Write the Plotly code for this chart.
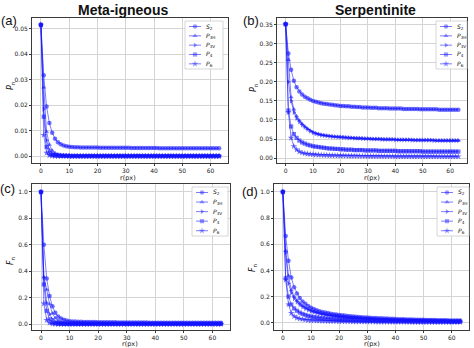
import plotly.graph_objects as go

# ---------------------------------------------------------------------------
# Data: correlation functions vs lag r (pixels), r = 0..63
# ---------------------------------------------------------------------------
r_px = list(range(64))

series_labels = ["<i>S</i><sub>2</sub>", "<i>P</i><sub>3H</sub>", "<i>P</i><sub>3V</sub>",
                 "<i>P</i><sub>4</sub>", "<i>P</i><sub>6</sub>"]

x_ticks = [0, 10, 20, 30, 40, 50, 60]
y_ticks_a = [0.00, 0.01, 0.02, 0.03, 0.04, 0.05]
y_ticks_b = [0.00, 0.05, 0.10, 0.15, 0.20, 0.25, 0.30, 0.35]
y_ticks_cd = [0.0, 0.2, 0.4, 0.6, 0.8, 1.0]

# (a) Meta-igneous, P_n
S2_a = [0.0516, 0.0318, 0.0195, 0.0130, 0.0092, 0.0068, 0.0055, 0.0047,
        0.0042, 0.0039, 0.0037, 0.0036, 0.0035, 0.0035, 0.0034, 0.0034,
        0.0034, 0.0034, 0.0034, 0.0034, 0.0034, 0.0033, 0.0033, 0.0033,
        0.0033, 0.0033, 0.0033, 0.0033, 0.0033, 0.0033, 0.0033, 0.0033,
        0.0032, 0.0032, 0.0032, 0.0032, 0.0032, 0.0032, 0.0032, 0.0032,
        0.0032, 0.0032, 0.0031, 0.0031, 0.0031, 0.0031, 0.0031, 0.0031,
        0.0031, 0.0031, 0.0031, 0.0031, 0.0031, 0.0031, 0.0031, 0.0031,
        0.0031, 0.0031, 0.0031, 0.0031, 0.0031, 0.0031, 0.0031, 0.0031]
P3H_a = [0.0516, 0.0270, 0.0096, 0.0045, 0.0022, 0.0012, 0.0007, 0.0005,
         0.0004, 0.0003, 0.0003, 0.0002, 0.0002, 0.0002, 0.0002, 0.0002,
         0.0002, 0.0002, 0.0002, 0.0002, 0.0002, 0.0002, 0.0002, 0.0002,
         0.0002, 0.0002, 0.0002, 0.0002, 0.0002, 0.0002, 0.0002, 0.0002,
         0.0002, 0.0002, 0.0002, 0.0002, 0.0002, 0.0002, 0.0002, 0.0002,
         0.0002, 0.0002, 0.0002, 0.0002, 0.0002, 0.0002, 0.0002, 0.0002,
         0.0002, 0.0002, 0.0002, 0.0002, 0.0002, 0.0002, 0.0002, 0.0002,
         0.0002, 0.0002, 0.0002, 0.0002, 0.0002, 0.0002, 0.0002, 0.0002]
P3V_a = [0.0516, 0.0185, 0.0062, 0.0025, 0.0011, 0.0006, 0.0004, 0.0003,
         0.0002, 0.0002, 0.0002, 0.0001, 0.0001, 0.0001, 0.0001, 0.0001,
         0.0001, 0.0001, 0.0001, 0.0001, 0.0001, 0.0001, 0.0001, 0.0001,
         0.0001, 0.0001, 0.0001, 0.0001, 0.0001, 0.0001, 0.0001, 0.0001,
         0.0001, 0.0001, 0.0001, 0.0001, 0.0001, 0.0001, 0.0001, 0.0001,
         0.0001, 0.0001, 0.0001, 0.0001, 0.0001, 0.0001, 0.0001, 0.0001,
         0.0001, 0.0001, 0.0001, 0.0001, 0.0001, 0.0001, 0.0001, 0.0001,
         0.0001, 0.0001, 0.0001, 0.0001, 0.0001, 0.0001, 0.0001, 0.0001]
P4_a = [0.0516, 0.0155, 0.0036, 0.0012, 0.0005, 0.0003, 0.0002, 0.0001,
        0.0001, 0.0001, 0.0000, 0.0000, 0.0000, 0.0000, 0.0000, 0.0000,
        0.0000, 0.0000, 0.0000, 0.0000, 0.0000, 0.0000, 0.0000, 0.0000,
        0.0000, 0.0000, 0.0000, 0.0000, 0.0000, 0.0000, 0.0000, 0.0000,
        0.0000, 0.0000, 0.0000, 0.0000, 0.0000, 0.0000, 0.0000, 0.0000,
        0.0000, 0.0000, 0.0000, 0.0000, 0.0000, 0.0000, 0.0000, 0.0000,
        0.0000, 0.0000, 0.0000, 0.0000, 0.0000, 0.0000, 0.0000, 0.0000,
        0.0000, 0.0000, 0.0000, 0.0000, 0.0000, 0.0000, 0.0000, 0.0000]
P6_a = [0.0516, 0.0083, 0.0013, 0.0003, 0.0001, 0.0000, 0.0000, 0.0000,
        0.0000, 0.0000, 0.0000, 0.0000, 0.0000, 0.0000, 0.0000, 0.0000,
        0.0000, 0.0000, 0.0000, 0.0000, 0.0000, 0.0000, 0.0000, 0.0000,
        0.0000, 0.0000, 0.0000, 0.0000, 0.0000, 0.0000, 0.0000, 0.0000,
        0.0000, 0.0000, 0.0000, 0.0000, 0.0000, 0.0000, 0.0000, 0.0000,
        0.0000, 0.0000, 0.0000, 0.0000, 0.0000, 0.0000, 0.0000, 0.0000,
        0.0000, 0.0000, 0.0000, 0.0000, 0.0000, 0.0000, 0.0000, 0.0000,
        0.0000, 0.0000, 0.0000, 0.0000, 0.0000, 0.0000, 0.0000, 0.0000]

# (b) Serpentinite, P_n
S2_b = [0.352, 0.275, 0.232, 0.203, 0.186, 0.175, 0.167, 0.161,
        0.157, 0.153, 0.150, 0.148, 0.146, 0.144, 0.143, 0.142,
        0.141, 0.140, 0.139, 0.138, 0.137, 0.137, 0.136, 0.136,
        0.135, 0.135, 0.134, 0.134, 0.133, 0.133, 0.133, 0.132,
        0.132, 0.132, 0.131, 0.131, 0.131, 0.131, 0.130, 0.130,
        0.130, 0.130, 0.130, 0.129, 0.129, 0.129, 0.129, 0.129,
        0.129, 0.128, 0.128, 0.128, 0.128, 0.128, 0.128, 0.128,
        0.127, 0.127, 0.127, 0.127, 0.127, 0.127, 0.127, 0.127]
P3H_b = [0.352, 0.258, 0.160, 0.128, 0.110, 0.099, 0.090, 0.083,
         0.077, 0.072, 0.068, 0.065, 0.063, 0.061, 0.060, 0.059,
         0.058, 0.057, 0.056, 0.056, 0.055, 0.055, 0.054, 0.054,
         0.053, 0.053, 0.052, 0.052, 0.052, 0.051, 0.051, 0.051,
         0.050, 0.050, 0.050, 0.050, 0.049, 0.049, 0.049, 0.049,
         0.049, 0.048, 0.048, 0.048, 0.048, 0.048, 0.048, 0.047,
         0.047, 0.047, 0.047, 0.047, 0.047, 0.047, 0.047, 0.046,
         0.046, 0.046, 0.046, 0.046, 0.046, 0.046, 0.046, 0.046]
P3V_b = [0.352, 0.200, 0.150, 0.120, 0.104, 0.095, 0.087, 0.081,
         0.076, 0.071, 0.067, 0.064, 0.062, 0.060, 0.059, 0.058,
         0.057, 0.056, 0.056, 0.055, 0.055, 0.054, 0.054, 0.053,
         0.053, 0.052, 0.052, 0.052, 0.051, 0.051, 0.051, 0.050,
         0.050, 0.050, 0.050, 0.049, 0.049, 0.049, 0.049, 0.049,
         0.048, 0.048, 0.048, 0.048, 0.048, 0.048, 0.047, 0.047,
         0.047, 0.047, 0.047, 0.047, 0.047, 0.047, 0.046, 0.046,
         0.046, 0.046, 0.046, 0.046, 0.046, 0.046, 0.046, 0.046]
P4_b = [0.352, 0.125, 0.083, 0.063, 0.053, 0.046, 0.041, 0.038,
        0.035, 0.033, 0.031, 0.030, 0.029, 0.028, 0.027, 0.026,
        0.025, 0.025, 0.024, 0.024, 0.023, 0.023, 0.022, 0.022,
        0.022, 0.021, 0.021, 0.021, 0.021, 0.020, 0.020, 0.020,
        0.020, 0.020, 0.019, 0.019, 0.019, 0.019, 0.019, 0.019,
        0.019, 0.018, 0.018, 0.018, 0.018, 0.018, 0.018, 0.018,
        0.018, 0.018, 0.017, 0.017, 0.017, 0.017, 0.017, 0.017,
        0.017, 0.017, 0.017, 0.017, 0.017, 0.017, 0.017, 0.017]
P6_b = [0.352, 0.120, 0.053, 0.031, 0.022, 0.017, 0.014, 0.012,
        0.011, 0.010, 0.0095, 0.009, 0.0085, 0.008, 0.0078, 0.0075,
        0.0072, 0.0070, 0.0068, 0.0066, 0.0064, 0.0062, 0.0060, 0.0059,
        0.0058, 0.0057, 0.0056, 0.0055, 0.0054, 0.0053, 0.0052, 0.0051,
        0.0050, 0.0050, 0.0049, 0.0049, 0.0048, 0.0048, 0.0047, 0.0047,
        0.0046, 0.0046, 0.0045, 0.0045, 0.0045, 0.0044, 0.0044, 0.0044,
        0.0043, 0.0043, 0.0043, 0.0042, 0.0042, 0.0042, 0.0042, 0.0041,
        0.0041, 0.0041, 0.0041, 0.0040, 0.0040, 0.0040, 0.0040, 0.0040]

# (c) Meta-igneous, F_n
S2_c = [1.000, 0.600, 0.345, 0.212, 0.134, 0.085, 0.058, 0.042,
        0.032, 0.026, 0.022, 0.020, 0.019, 0.018, 0.017, 0.016,
        0.016, 0.015, 0.015, 0.015, 0.014, 0.014, 0.014, 0.013,
        0.013, 0.013, 0.013, 0.012, 0.012, 0.012, 0.012, 0.012,
        0.011, 0.011, 0.011, 0.011, 0.011, 0.011, 0.010, 0.010,
        0.010, 0.010, 0.010, 0.010, 0.010, 0.010, 0.009, 0.009,
        0.009, 0.009, 0.009, 0.009, 0.009, 0.009, 0.009, 0.009,
        0.009, 0.009, 0.009, 0.009, 0.009, 0.009, 0.009, 0.009]
P3H_c = [1.000, 0.355, 0.260, 0.150, 0.080, 0.045, 0.026, 0.016,
         0.011, 0.008, 0.006, 0.005, 0.004, 0.004, 0.003, 0.003,
         0.003, 0.003, 0.003, 0.003, 0.003, 0.003, 0.003, 0.003,
         0.003, 0.003, 0.003, 0.003, 0.003, 0.003, 0.003, 0.003,
         0.003, 0.003, 0.003, 0.003, 0.003, 0.003, 0.003, 0.003,
         0.003, 0.003, 0.003, 0.003, 0.003, 0.003, 0.003, 0.003,
         0.003, 0.003, 0.003, 0.003, 0.003, 0.003, 0.003, 0.003,
         0.003, 0.003, 0.003, 0.003, 0.003, 0.003, 0.003, 0.003]
P3V_c = [1.000, 0.350, 0.160, 0.075, 0.036, 0.018, 0.010, 0.006,
         0.004, 0.003, 0.003, 0.002, 0.002, 0.002, 0.002, 0.002,
         0.002, 0.002, 0.002, 0.002, 0.002, 0.002, 0.002, 0.002,
         0.002, 0.002, 0.002, 0.002, 0.002, 0.002, 0.002, 0.002,
         0.002, 0.002, 0.002, 0.002, 0.002, 0.002, 0.002, 0.002,
         0.002, 0.002, 0.002, 0.002, 0.002, 0.002, 0.002, 0.002,
         0.002, 0.002, 0.002, 0.002, 0.002, 0.002, 0.002, 0.002,
         0.002, 0.002, 0.002, 0.002, 0.002, 0.002, 0.002, 0.002]
P4_c = [1.000, 0.300, 0.100, 0.035, 0.013, 0.006, 0.003, 0.002,
        0.001, 0.001, 0.001, 0.001, 0.001, 0.001, 0.001, 0.001,
        0.001, 0.001, 0.001, 0.001, 0.001, 0.001, 0.001, 0.001,
        0.001, 0.001, 0.001, 0.001, 0.001, 0.001, 0.001, 0.001,
        0.001, 0.001, 0.001, 0.001, 0.001, 0.001, 0.001, 0.001,
        0.001, 0.001, 0.001, 0.001, 0.001, 0.001, 0.001, 0.001,
        0.001, 0.001, 0.001, 0.001, 0.001, 0.001, 0.001, 0.001,
        0.001, 0.001, 0.001, 0.001, 0.001, 0.001, 0.001, 0.001]
P6_c = [1.000, 0.155, 0.030, 0.008, 0.002, 0.001, 0.000, 0.000,
        0.000, 0.000, 0.000, 0.000, 0.000, 0.000, 0.000, 0.000,
        0.000, 0.000, 0.000, 0.000, 0.000, 0.000, 0.000, 0.000,
        0.000, 0.000, 0.000, 0.000, 0.000, 0.000, 0.000, 0.000,
        0.000, 0.000, 0.000, 0.000, 0.000, 0.000, 0.000, 0.000,
        0.000, 0.000, 0.000, 0.000, 0.000, 0.000, 0.000, 0.000,
        0.000, 0.000, 0.000, 0.000, 0.000, 0.000, 0.000, 0.000,
        0.000, 0.000, 0.000, 0.000, 0.000, 0.000, 0.000, 0.000]

# (d) Serpentinite, F_n
S2_d = [1.000, 0.662, 0.474, 0.346, 0.272, 0.224, 0.189, 0.162,
        0.145, 0.128, 0.115, 0.105, 0.096, 0.089, 0.083, 0.078,
        0.074, 0.070, 0.066, 0.063, 0.060, 0.057, 0.055, 0.052,
        0.050, 0.048, 0.046, 0.044, 0.043, 0.041, 0.040, 0.038,
        0.037, 0.036, 0.035, 0.034, 0.033, 0.032, 0.031, 0.030,
        0.029, 0.028, 0.028, 0.027, 0.026, 0.026, 0.025, 0.024,
        0.024, 0.023, 0.023, 0.022, 0.022, 0.021, 0.021, 0.020,
        0.020, 0.019, 0.019, 0.018, 0.018, 0.018, 0.017, 0.017]
P3H_d = [1.000, 0.550, 0.360, 0.250, 0.200, 0.170, 0.148, 0.130,
         0.116, 0.104, 0.094, 0.086, 0.079, 0.073, 0.068, 0.064,
         0.060, 0.057, 0.054, 0.051, 0.048, 0.046, 0.044, 0.042,
         0.040, 0.038, 0.037, 0.035, 0.034, 0.033, 0.031, 0.030,
         0.029, 0.028, 0.027, 0.026, 0.025, 0.025, 0.024, 0.023,
         0.022, 0.022, 0.021, 0.021, 0.020, 0.020, 0.019, 0.019,
         0.018, 0.018, 0.017, 0.017, 0.016, 0.016, 0.016, 0.015,
         0.015, 0.015, 0.014, 0.014, 0.014, 0.013, 0.013, 0.013]
P3V_d = [1.000, 0.535, 0.300, 0.230, 0.185, 0.158, 0.138, 0.122,
         0.109, 0.098, 0.089, 0.082, 0.075, 0.070, 0.065, 0.061,
         0.057, 0.054, 0.051, 0.048, 0.046, 0.044, 0.042, 0.040,
         0.038, 0.036, 0.035, 0.034, 0.032, 0.031, 0.030, 0.029,
         0.028, 0.027, 0.026, 0.025, 0.024, 0.024, 0.023, 0.022,
         0.022, 0.021, 0.021, 0.020, 0.020, 0.019, 0.019, 0.018,
         0.018, 0.017, 0.017, 0.016, 0.016, 0.016, 0.015, 0.015,
         0.015, 0.014, 0.014, 0.014, 0.013, 0.013, 0.013, 0.013]
P4_d = [1.000, 0.340, 0.200, 0.140, 0.110, 0.092, 0.078, 0.068,
        0.060, 0.053, 0.048, 0.044, 0.041, 0.038, 0.035, 0.033,
        0.031, 0.029, 0.028, 0.026, 0.025, 0.024, 0.023, 0.022,
        0.021, 0.020, 0.019, 0.019, 0.018, 0.017, 0.017, 0.016,
        0.016, 0.015, 0.015, 0.014, 0.014, 0.014, 0.013, 0.013,
        0.013, 0.012, 0.012, 0.012, 0.011, 0.011, 0.011, 0.011,
        0.010, 0.010, 0.010, 0.010, 0.010, 0.009, 0.009, 0.009,
        0.009, 0.009, 0.009, 0.008, 0.008, 0.008, 0.008, 0.008]
P6_d = [1.000, 0.330, 0.140, 0.074, 0.050, 0.038, 0.031, 0.027,
        0.024, 0.021, 0.019, 0.018, 0.017, 0.016, 0.015, 0.014,
        0.013, 0.013, 0.012, 0.012, 0.011, 0.011, 0.010, 0.010,
        0.010, 0.009, 0.009, 0.009, 0.009, 0.008, 0.008, 0.008,
        0.008, 0.007, 0.007, 0.007, 0.007, 0.007, 0.007, 0.006,
        0.006, 0.006, 0.006, 0.006, 0.006, 0.006, 0.005, 0.005,
        0.005, 0.005, 0.005, 0.005, 0.005, 0.005, 0.005, 0.005,
        0.004, 0.004, 0.004, 0.004, 0.004, 0.004, 0.004, 0.004]

# ---------------------------------------------------------------------------
# Styling
# ---------------------------------------------------------------------------
W, H = 474, 348
LINE_COLOR = "rgba(20,20,255,0.55)"
MARKER_COLOR = "rgba(20,20,255,0.6)"
symbols = ["circle", "triangle-up", "triangle-right", "square", "star"]
marker_sizes = [4.5, 4.5, 4.5, 4.2, 5.0]
TICK_FONT = dict(family="DejaVu Sans", size=6, color="#222")
GRID = "#d4d4d4"
FRAME = "#3a3a3a"


def px_x(p):
    return p / W


def px_y(p):
    return 1 - p / H


def label(text, x, y, size, family="DejaVu Sans", xanchor="center", angle=0):
    """Text placed at a pixel position of the page."""
    return dict(text=text, x=px_x(x), y=px_y(y), xref="paper", yref="paper",
                xanchor=xanchor, yanchor="middle", showarrow=False, textangle=angle,
                font=dict(family=family, size=size, color="#111"))


# each panel: axes ids, frame box in pixels (left, top, right, bottom), data
panels = [
    dict(xa="x", ya="y", box=(32, 18, 228, 163), series=[S2_a, P3H_a, P3V_a, P4_a, P6_a],
         yrange=[-0.0027, 0.0543], yticks=y_ticks_a, yfmt=".2f", ylabel="<i>P</i><sub>n</sub>",
         ylab_pos=(11, 86), xlab_pos=(128, 178), tag="(a)", tag_pos=(9, 21),
         leg=(185, 21, 223, 69)),
    dict(xa="x2", ya="y2", box=(277, 18, 467, 163), series=[S2_b, P3H_b, P3V_b, P4_b, P6_b],
         yrange=[-0.013, 0.368], yticks=y_ticks_b, yfmt=".2f", ylabel="<i>P</i><sub>n</sub>",
         ylab_pos=(254, 88), xlab_pos=(372, 178), tag="(b)", tag_pos=(251, 20),
         leg=(436, 21, 467, 69)),
    dict(xa="x3", ya="y3", box=(32, 184, 230, 330), series=[S2_c, P3H_c, P3V_c, P4_c, P6_c],
         yrange=[-0.045, 1.06], yticks=y_ticks_cd, yfmt=".1f", ylabel="<i>F</i><sub>n</sub>",
         ylab_pos=(11, 261), xlab_pos=(130, 343.5), tag="(c)", tag_pos=(8, 188),
         leg=(192, 187, 228, 236)),
    dict(xa="x4", ya="y4", box=(274, 184, 469, 330), series=[S2_d, P3H_d, P3V_d, P4_d, P6_d],
         yrange=[-0.055, 1.06], yticks=y_ticks_cd, yfmt=".1f", ylabel="<i>F</i><sub>n</sub>",
         ylab_pos=(253, 268), xlab_pos=(372, 343.5), tag="(d)", tag_pos=(250, 191),
         leg=(437, 187, 469, 236)),
]

fig = go.Figure()
annotations = []
layout_axes = {}

for i, pnl in enumerate(panels):
    for k, vals in enumerate(pnl["series"]):
        fig.add_trace(go.Scatter(
            x=r_px[:len(vals)], y=vals, xaxis=pnl["xa"], yaxis=pnl["ya"],
            mode="lines+markers", name=series_labels[k], showlegend=False,
            line=dict(color=LINE_COLOR, width=1),
            marker=dict(symbol=symbols[k], size=marker_sizes[k], color=MARKER_COLOR,
                        line=dict(width=0)),
        ))

    left, top, right, bottom = pnl["box"]
    suffix = pnl["xa"][1:]
    xname = "xaxis" + suffix
    yname = "yaxis" + suffix
    layout_axes[xname] = dict(
        domain=[px_x(left), px_x(right)], anchor=pnl["ya"], range=[-3.15, 66.15],
        tickvals=x_ticks, ticks="outside", ticklen=2, tickwidth=0.8, tickcolor=FRAME,
        tickfont=TICK_FONT, showgrid=True, gridcolor=GRID, gridwidth=0.8,
        showline=True, linecolor=FRAME, linewidth=1, mirror=True, zeroline=False,
        fixedrange=True,
    )
    layout_axes[yname] = dict(
        domain=[px_y(bottom), px_y(top)], anchor=pnl["xa"], range=pnl["yrange"],
        tickvals=pnl["yticks"], tickformat=pnl["yfmt"], ticks="outside", ticklen=2,
        tickwidth=0.8, tickcolor=FRAME, tickfont=TICK_FONT, showgrid=True,
        gridcolor=GRID, gridwidth=0.8, showline=True, linecolor=FRAME, linewidth=1,
        mirror=True, zeroline=False, fixedrange=True,
    )

    # axis titles and panel tag
    yx, yy = pnl["ylab_pos"]
    annotations.append(label(pnl["ylabel"], yx, yy, 8, angle=-90))
    lx, ly = pnl["xlab_pos"]
    annotations.append(label("r(px)", lx, ly, 6.5))
    tx, ty = pnl["tag_pos"]
    annotations.append(label(pnl["tag"], tx, ty, 13, family="Liberation Sans"))

# ---------------------------------------------------------------------------
# Compact legends drawn on a pixel-space overlay axis
# ---------------------------------------------------------------------------
for pnl in panels:
    l, t, r, b = pnl["leg"]
    fig.add_trace(go.Scatter(
        x=[l, r, r, l, l], y=[t, t, b, b, t], xaxis="x5", yaxis="y5", mode="lines",
        fill="toself", fillcolor="rgba(255,255,255,0.92)",
        line=dict(color="#cccccc", width=0.8), showlegend=False, hoverinfo="skip",
    ))
    step = (b - t - 6) / 4.5
    for k in range(5):
        yk = t + 5.5 + k * step
        x0, x1 = l + 4, l + 16
        fig.add_trace(go.Scatter(
            x=[x0, (x0 + x1) / 2, x1], y=[yk, yk, yk], xaxis="x5", yaxis="y5",
            mode="lines+markers", showlegend=False, hoverinfo="skip",
            line=dict(color=LINE_COLOR, width=1),
            marker=dict(symbol=symbols[k], size=[0, marker_sizes[k], 0],
                        color=MARKER_COLOR, line=dict(width=0)),
        ))
        annotations.append(label(series_labels[k], l + 18.5, yk, 6, xanchor="left"))

layout_axes["xaxis5"] = dict(domain=[0, 1], range=[0, W], anchor="y5", visible=False,
                             fixedrange=True)
layout_axes["yaxis5"] = dict(domain=[0, 1], range=[H, 0], anchor="x5", visible=False,
                             fixedrange=True)

# column titles
annotations.append(label("<b>Meta-igneous</b>", 123, 10, 14, family="Liberation Sans"))
annotations.append(label("<b>Serpentinite</b>", 375, 10, 14, family="Liberation Sans"))

# transparent plot areas so the full-page legend overlay does not hide the panels
fig.update_layout(
    width=W, height=H, margin=dict(l=0, r=0, t=0, b=0),
    paper_bgcolor="white", plot_bgcolor="rgba(0,0,0,0)", showlegend=False,
    annotations=annotations, **layout_axes,
)

fig.write_html("out.html", config={"displayModeBar": False})
